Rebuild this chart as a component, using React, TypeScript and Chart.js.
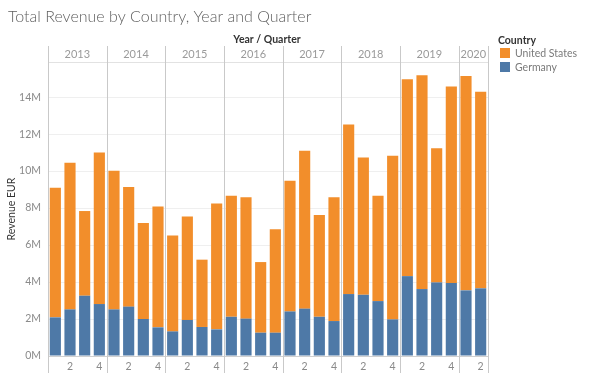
import { useEffect, useRef } from "react";
import { Chart, registerables } from "chart.js";

Chart.register(...registerables);

const years = ["2013", "2014", "2015", "2016", "2017", "2018", "2019", "2020"];
const quartersPerYear = [4, 4, 4, 4, 4, 4, 4, 2];
const quarterLabels = ["1", "2", "3", "4"];
const shownQuarterLabels = ["2", "4"];

// Revenue in millions EUR
const germany = [
  2.09, 2.52, 3.26, 2.81,
  2.52, 2.67, 2.0, 1.55,
  1.33, 1.95, 1.57, 1.44,
  2.12, 2.02, 1.26, 1.26,
  2.41, 2.56, 2.12, 1.89,
  3.35, 3.31, 2.97, 1.98,
  4.32, 3.62, 3.98, 3.95,
  3.55, 3.66,
];
const unitedStates = [
  7.01, 7.93, 4.58, 8.19,
  7.5, 6.47, 5.19, 6.54,
  5.19, 5.6, 3.64, 6.81,
  6.54, 6.57, 3.82, 5.6,
  7.07, 8.54, 5.5, 6.7,
  9.17, 7.43, 5.69, 8.85,
  10.65, 11.57, 7.26, 10.63,
  11.59, 10.63,
];
const yMax = 15.9;
const yStep = 2;

const titleText = "Total Revenue by Country, Year and Quarter";
const columnHeader = "Year / Quarter";
const yTitle = "Revenue EUR";
const legendTitle = "Country";
const seriesNames = ["United States", "Germany"];
const ORANGE = "#f28e2b";
const BLUE = "#4e79a7";
const FONT = "Lato, 'Open Sans', sans-serif";

const categories: string[] = [];
const categoryQuarter: string[] = [];
years.forEach((y, yi) => {
  for (let q = 0; q < quartersPerYear[yi]; q++) {
    categories.push(`${y} Q${quarterLabels[q]}`);
    categoryQuarter.push(quarterLabels[q]);
  }
});

const decorPlugin = {
  id: "decor",
  beforeDraw(chart: any) {
    const { ctx, width, height } = chart;
    ctx.save();
    ctx.fillStyle = "#ffffff";
    ctx.fillRect(0, 0, width, height);
    ctx.restore();
  },
  afterDraw(chart: any) {
    const { ctx, chartArea } = chart;
    const x = chart.scales.x;
    const half = (x.getPixelForValue(1) - x.getPixelForValue(0)) / 2;
    ctx.save();

    // title
    ctx.fillStyle = "#5f5f5f";
    ctx.font = `300 16px ${FONT}`;
    ctx.textAlign = "left";
    ctx.textBaseline = "alphabetic";
    ctx.fillText(titleText, 8, 22);

    // column header
    ctx.fillStyle = "#333333";
    ctx.font = `bold 10.5px ${FONT}`;
    ctx.textAlign = "center";
    ctx.textBaseline = "middle";
    ctx.fillText(columnHeader, (chartArea.left + chartArea.right) / 2 - 1, 40);

    // header bottom line
    ctx.strokeStyle = "#e2e2e2";
    ctx.lineWidth = 1;
    ctx.beginPath();
    ctx.moveTo(chartArea.left, chartArea.top + 0.5);
    ctx.lineTo(chartArea.right, chartArea.top + 0.5);
    ctx.stroke();

    // year separators and labels
    let idx = 0;
    const bounds: number[] = [];
    years.forEach((_, yi) => {
      bounds.push(x.getPixelForValue(idx) - half);
      idx += quartersPerYear[yi];
    });
    bounds.push(x.getPixelForValue(idx - 1) + half);
    ctx.strokeStyle = "#c9c9c9";
    bounds.forEach((b) => {
      const px = Math.round(b) + 0.5;
      ctx.beginPath();
      ctx.moveTo(px, 46);
      ctx.lineTo(px, chart.height);
      ctx.stroke();
    });
    ctx.fillStyle = "#9a9a9a";
    ctx.font = `11px ${FONT}`;
    years.forEach((y, yi) => {
      ctx.fillText(y, (bounds[yi] + bounds[yi + 1]) / 2, 54);
    });

    // legend
    ctx.textAlign = "left";
    ctx.fillStyle = "#333333";
    ctx.font = `bold 10.5px ${FONT}`;
    ctx.fillText(legendTitle, 498, 41);
    const colors = [ORANGE, BLUE];
    seriesNames.forEach((n, i) => {
      const yTop = 48 + i * 14;
      ctx.fillStyle = colors[i];
      ctx.fillRect(500, yTop, 10, 10);
      ctx.fillStyle = "#7a7a7a";
      ctx.font = `10.5px ${FONT}`;
      ctx.fillText(n, 515, yTop + 5.5);
    });
    ctx.restore();
  },
};

export default function App() {
  const ref = useRef<HTMLCanvasElement | null>(null);
  useEffect(() => {
    if (!ref.current) return;
    const chart = new Chart(ref.current, {
      type: "bar",
      data: {
        labels: categories,
        datasets: [
          {
            label: seriesNames[1],
            data: germany,
            backgroundColor: BLUE,
            borderWidth: 0,
            categoryPercentage: 1,
            barPercentage: 0.76,
          },
          {
            label: seriesNames[0],
            data: unitedStates,
            backgroundColor: ORANGE,
            borderWidth: 0,
            categoryPercentage: 1,
            barPercentage: 0.76,
          },
        ],
      },
      options: {
        responsive: false,
        animation: false,
        layout: { padding: { left: 0, top: 62, right: 113, bottom: 0 } },
        plugins: {
          legend: { display: false },
          title: { display: false },
          tooltip: { enabled: false },
        },
        scales: {
          x: {
            stacked: true,
            grid: { display: false, drawTicks: false },
            border: { display: true, color: "#d0d0d0" },
            ticks: {
              autoSkip: false,
              maxRotation: 0,
              padding: 4,
              color: "#8a8a8a",
              font: { family: FONT, size: 10.5 },
              callback: (_v: any, i: number) =>
                shownQuarterLabels.includes(categoryQuarter[i]) ? categoryQuarter[i] : "",
            },
            afterFit: (s: any) => {
              s.height = 17;
            },
          },
          y: {
            stacked: true,
            min: 0,
            max: yMax,
            grid: { color: "#efefef", drawTicks: false },
            border: { display: false },
            ticks: {
              stepSize: yStep,
              includeBounds: false,
              padding: 7,
              color: "#8a8a8a",
              font: { family: FONT, size: 10.5 },
              callback: (v: any) => `${v}M`,
            },
            title: {
              display: true,
              text: yTitle,
              color: "#333333",
              font: { family: FONT, size: 10.5 },
              padding: { top: 5, bottom: 0 },
            },
            afterFit: (s: any) => {
              s.width = 48;
            },
          },
        },
      },
      plugins: [decorPlugin],
    });
    return () => chart.destroy();
  }, []);
  return (
    <div style={{ position: "fixed", left: 0, top: 0, width: 601, height: 373 }}>
      <canvas ref={ref} width={601} height={373} style={{ width: 601, height: 373 }} />
    </div>
  );
}
